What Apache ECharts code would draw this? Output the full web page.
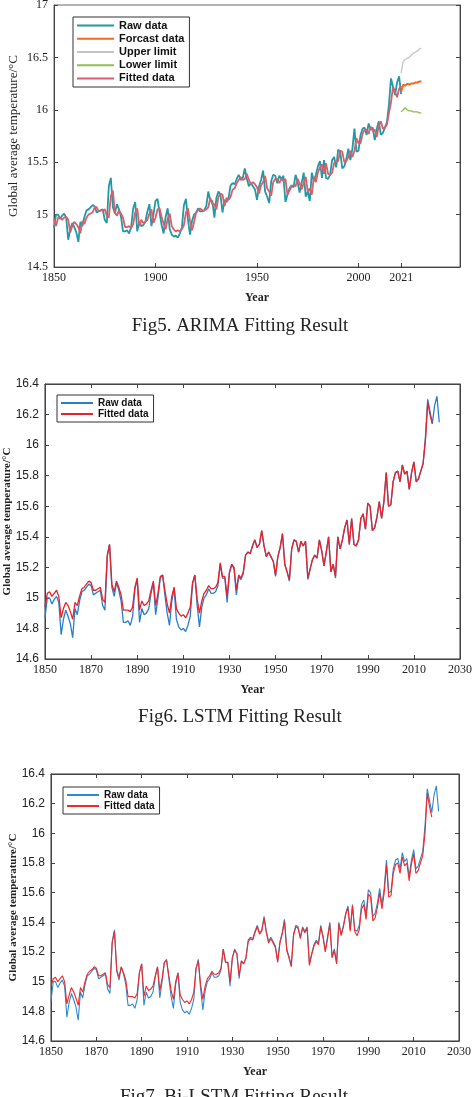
<!DOCTYPE html>
<html>
<head>
<meta charset="utf-8">
<script src="https://cdn.jsdelivr.net/npm/echarts@6/dist/echarts.min.js"></script>
<style>
html,body{margin:0;padding:0;background:#fff;}
#fig{width:474px;height:1097px;}
</style>
</head>
<body>
<div id="fig"></div>
<script>
// annual global average temperature, 1850-2021
var startYear = 1850;
var rawData = [
 14.87,15.00,15.00,14.96,14.99,15.01,14.97,14.76,14.86,14.92,
 14.88,14.83,14.74,14.93,14.89,14.98,15.04,15.05,15.07,15.09,
 15.08,15.02,15.03,15.04,15.05,14.95,14.92,15.27,15.35,15.07,
 15.01,15.10,15.05,14.98,14.84,14.84,14.85,14.82,14.88,15.06,
 15.12,14.84,14.93,14.89,14.90,14.93,15.03,15.10,14.89,15.00,
 15.13,15.15,15.02,14.90,14.82,14.98,15.06,14.86,14.81,14.79,
 14.80,14.78,14.82,14.88,15.09,15.15,14.95,14.81,14.94,15.00,
 15.02,15.06,15.03,15.03,15.04,15.08,15.22,15.13,15.13,14.97,
 15.16,15.22,15.19,15.02,15.14,15.12,15.16,15.28,15.30,15.29,
 15.34,15.38,15.33,15.35,15.44,15.34,15.27,15.30,15.27,15.24,
 15.14,15.27,15.33,15.42,15.22,15.17,15.11,15.32,15.38,15.37,
 15.30,15.37,15.34,15.37,15.12,15.19,15.25,15.28,15.26,15.38,
 15.31,15.21,15.30,15.40,15.17,15.22,15.13,15.40,15.32,15.38,
 15.46,15.51,15.35,15.52,15.35,15.34,15.38,15.52,15.55,15.45,
 15.62,15.60,15.44,15.46,15.53,15.63,15.52,15.63,15.82,15.60,
 15.61,15.76,15.82,15.83,15.76,15.87,15.81,15.83,15.71,15.82,
 15.89,15.76,15.78,15.83,15.88,16.05,16.30,16.22,16.14,16.26,
 16.32,16.15
];
// Fig5 ARIMA fitted values, 1850-2021
var arimaFitted = [
 14.96,14.89,14.97,14.97,14.95,14.97,14.98,14.95,14.83,14.89,
 14.93,14.91,14.88,14.82,14.94,14.91,14.97,15.00,15.01,15.02,
 15.07,15.07,15.03,15.04,15.04,15.05,14.99,14.97,15.18,15.23,
 15.02,14.99,15.04,15.01,14.97,14.88,14.88,14.89,14.87,14.91,
 15.02,15.06,14.89,14.95,14.92,14.93,14.95,15.01,15.05,14.92,
 14.97,15.05,15.06,14.98,14.91,14.86,14.96,15.01,14.89,14.86,
 14.84,14.85,14.84,14.86,14.90,15.02,15.06,14.94,14.85,14.93,
 15.02,15.04,15.06,15.04,15.04,15.05,15.07,15.16,15.10,15.10,
 15.05,15.17,15.20,15.19,15.08,15.16,15.14,15.17,15.24,15.25,
 15.30,15.33,15.36,15.33,15.34,15.39,15.33,15.29,15.31,15.29,
 15.26,15.20,15.28,15.31,15.37,15.25,15.22,15.18,15.31,15.34,
 15.34,15.30,15.34,15.32,15.34,15.19,15.23,15.27,15.28,15.27,
 15.34,15.30,15.24,15.30,15.36,15.22,15.25,15.19,15.36,15.31,
 15.40,15.45,15.48,15.39,15.49,15.39,15.38,15.40,15.49,15.51,
 15.51,15.61,15.60,15.50,15.51,15.55,15.61,15.55,15.61,15.73,
 15.68,15.68,15.77,15.81,15.81,15.77,15.84,15.80,15.81,15.74,
 15.85,15.89,15.82,15.83,15.86,15.97,16.07,16.22,16.17,16.12,
 16.20,16.23
];
// Fig5 forecast with limits
var forecastYears = [2021,2022,2023,2024,2025,2026,2027,2028,2029,2030,2031];
var forecastData = [16.17,16.24,16.23,16.25,16.24,16.25,16.25,16.26,16.26,16.27,16.27];
var upperLimit   = [16.35,16.46,16.48,16.49,16.50,16.52,16.54,16.55,16.56,16.58,16.59];
var lowerLimit   = [15.98,16.00,16.02,16.00,15.99,15.99,15.98,15.98,15.98,15.97,15.97];
// Fig6 LSTM fitted values, 1850-2018
var lstmFitted = [
 14.94,15.03,15.04,15.01,15.03,15.05,15.01,14.87,14.93,14.97,
 14.95,14.91,14.86,14.97,14.95,15.01,15.06,15.07,15.09,15.11,
 15.10,15.05,15.05,15.06,15.07,14.99,14.97,15.28,15.35,15.09,
 15.04,15.11,15.07,15.02,14.92,14.92,14.92,14.91,14.94,15.07,
 15.13,14.92,14.98,14.95,14.96,14.98,15.05,15.11,14.95,15.03,
 15.14,15.15,15.05,14.96,14.90,15.01,15.07,14.93,14.90,14.88,
 14.89,14.87,14.90,14.94,15.10,15.15,14.99,14.90,14.98,15.03,
 15.05,15.08,15.06,15.06,15.07,15.10,15.23,15.14,15.14,15.01,
 15.17,15.22,15.20,15.05,15.15,15.13,15.17,15.28,15.30,15.29,
 15.34,15.38,15.33,15.35,15.44,15.34,15.27,15.30,15.27,15.24,
 15.15,15.27,15.33,15.42,15.22,15.17,15.12,15.32,15.38,15.37,
 15.30,15.37,15.34,15.37,15.13,15.19,15.25,15.28,15.26,15.38,
 15.31,15.21,15.30,15.40,15.17,15.22,15.14,15.40,15.32,15.38,
 15.46,15.51,15.35,15.52,15.35,15.34,15.38,15.52,15.55,15.45,
 15.62,15.60,15.44,15.46,15.53,15.63,15.52,15.63,15.82,15.60,
 15.61,15.76,15.82,15.83,15.76,15.87,15.81,15.83,15.71,15.82,
 15.89,15.76,15.78,15.83,15.88,16.03,16.28,16.20,16.14
];
// Fig7 Bi-LSTM fitted values, 1850-2018
var bilstmFitted = [
 14.97,15.02,15.03,15.00,15.02,15.04,15.00,14.85,14.91,14.96,
 14.93,14.89,14.84,14.96,14.93,15.00,15.05,15.07,15.08,15.10,
 15.09,15.04,15.04,15.05,15.06,14.98,14.96,15.26,15.34,15.08,
 15.03,15.10,15.06,15.01,14.90,14.90,14.90,14.89,14.92,15.06,
 15.12,14.90,14.97,14.94,14.95,14.97,15.04,15.10,14.94,15.02,
 15.13,15.14,15.04,14.94,14.88,15.00,15.06,14.91,14.88,14.86,
 14.87,14.85,14.88,14.93,15.09,15.14,14.98,14.88,14.97,15.02,
 15.04,15.07,15.05,15.05,15.06,15.09,15.22,15.13,15.13,15.00,
 15.16,15.21,15.19,15.04,15.14,15.12,15.16,15.27,15.29,15.28,
 15.33,15.37,15.32,15.34,15.43,15.33,15.26,15.29,15.26,15.23,
 15.13,15.26,15.32,15.41,15.21,15.16,15.10,15.31,15.37,15.36,
 15.29,15.36,15.33,15.36,15.11,15.18,15.24,15.27,15.25,15.37,
 15.30,15.20,15.29,15.39,15.16,15.21,15.12,15.39,15.31,15.37,
 15.45,15.50,15.34,15.51,15.34,15.31,15.35,15.49,15.52,15.42,
 15.59,15.57,15.41,15.43,15.50,15.60,15.49,15.60,15.79,15.57,
 15.58,15.73,15.79,15.80,15.73,15.84,15.78,15.80,15.68,15.79,
 15.86,15.73,15.75,15.80,15.85,16.00,16.27,16.18,16.11
];
var arimaTicks = [1850,1900,1950,2000,2021];

var years = [];
for (var i = 0; i < rawData.length; i++) {
    years.push(startYear + i);
}

function pairs(xs, ys) {
    var out = [];
    for (var i = 0; i < ys.length; i++) {
        out.push([xs[i], ys[i]]);
    }
    return out;
}

var serif = 'Liberation Serif';
var sans = 'Liberation Sans';

function xAxisBottom(grid, min, max, interval, custom, labelFont) {
    var ax = {
        gridIndex: grid, type: 'value', min: min, max: max,
        axisLine: {show: true, onZero: false, lineStyle: {color: '#444', width: 1}},
        axisTick: {show: true, inside: true, length: 4, lineStyle: {color: '#444'}},
        axisLabel: {color: '#222', fontFamily: labelFont, fontSize: 12, margin: 5,
                    formatter: function (v) { return String(v); }},
        splitLine: {show: false},
        name: 'Year', nameLocation: 'middle', nameGap: 25, nameMoveOverlap: false,
        nameTextStyle: {fontFamily: serif, fontWeight: 'bold', fontSize: 12, color: '#222'}
    };
    if (custom) {
        ax.axisTick.customValues = custom;
        ax.axisLabel.customValues = custom;
    } else {
        ax.interval = interval;
    }
    return ax;
}
function xAxisTop(grid, min, max, interval) {
    return {
        gridIndex: grid, type: 'value', min: min, max: max, interval: interval, position: 'top',
        axisLine: {show: true, onZero: false, lineStyle: {color: '#444'}},
        axisTick: {show: true, inside: true, length: 4, lineStyle: {color: '#444'}},
        axisLabel: {show: false}, splitLine: {show: false}
    };
}
function yAxisLeft(grid, min, max, interval, labelFont, nameGap, nameBold, nameSize) {
    return {
        gridIndex: grid, type: 'value', min: min, max: max, interval: interval,
        axisLine: {show: true, onZero: false, lineStyle: {color: '#444'}},
        axisTick: {show: true, inside: true, length: 4, lineStyle: {color: '#444'}},
        axisLabel: {color: '#222', fontFamily: labelFont, fontSize: 12, margin: 6},
        splitLine: {show: false},
        name: 'Global average temperature/°C', nameLocation: 'middle', nameGap: nameGap,
        nameMoveOverlap: false,
        nameTextStyle: {fontFamily: serif, fontWeight: nameBold ? 'bold' : 'normal', fontSize: nameSize, color: '#222'}
    };
}
function yAxisRight(grid, min, max, interval) {
    return {
        gridIndex: grid, type: 'value', min: min, max: max, interval: interval, position: 'right',
        axisLine: {show: true, onZero: false, lineStyle: {color: '#444'}},
        axisTick: {show: true, inside: true, length: 4, lineStyle: {color: '#444'}},
        axisLabel: {show: false}, splitLine: {show: false}
    };
}
function lineSeries(name, xi, yi, data, color, width) {
    return {
        name: name, type: 'line', xAxisIndex: xi, yAxisIndex: yi, data: data,
        symbol: 'none', showSymbol: false, clip: true, silent: true,
        lineStyle: {color: color, width: width}, itemStyle: {color: color}
    };
}
function legendBox(left, top, names, lineW, rowH, gap, font) {
    return {
        orient: 'vertical', left: left, top: top, data: names,
        itemWidth: lineW, itemHeight: rowH, itemGap: gap, itemStyle: {opacity: 0},
        padding: [3, 5, 3, 3], borderColor: '#333', borderWidth: 1, backgroundColor: '#fff',
        textStyle: {fontFamily: sans, fontWeight: 'bold', fontSize: font, color: '#111'},
        formatter: function (n) { return n.split('|')[0]; },
        selectedMode: false
    };
}
function gridBox(left, top, right, height, border) {
    return {left: left, top: top, right: right, height: height, containLabel: false,
            outerBoundsMode: 'none', show: true, borderColor: border, borderWidth: 1,
            backgroundColor: 'transparent'};
}

var myChart = echarts.init(document.getElementById('fig'));
var option = {
    animation: false,
    backgroundColor: '#fff',
    grid: [
        gridBox(54, 5, 14, 262, '#666'),
        gridBox(45, 384, 14, 275, '#333'),
        gridBox(51, 774, 15, 267, '#333')
    ],
    xAxis: [
        xAxisBottom(0, 1850, 2050, null, arimaTicks, serif),
        xAxisBottom(1, 1850, 2030, 20, null, serif),
        xAxisTop(1, 1850, 2030, 20),
        xAxisBottom(2, 1850, 2030, 20, null, serif),
        xAxisTop(2, 1850, 2030, 20)
    ],
    yAxis: [
        yAxisLeft(0, 14.5, 17, 0.5, serif, 34, false, 13),
        yAxisRight(0, 14.5, 17, 0.5),
        yAxisLeft(1, 14.6, 16.4, 0.2, sans, 32, true, 11),
        yAxisRight(1, 14.6, 16.4, 0.2),
        yAxisLeft(2, 14.6, 16.4, 0.2, sans, 32, true, 11),
        yAxisRight(2, 14.6, 16.4, 0.2)
    ],
    legend: [
        legendBox(73, 17, ['Raw data', 'Forcast data', 'Upper limit', 'Lower limit', 'Fitted data'], 37, 14, 2, 11),
        legendBox(57, 395, ['Raw data|2', 'Fitted data|2'], 32, 12, 1, 10),
        legendBox(63, 787, ['Raw data|3', 'Fitted data|3'], 32, 12, 1, 10)
    ],
    series: [
        lineSeries('Raw data', 0, 0, pairs(years, rawData), '#1f9aa6', 1.8),
        lineSeries('Forcast data', 0, 0, pairs(forecastYears, forecastData), '#f26a21', 2),
        lineSeries('Upper limit', 0, 0, pairs(forecastYears, upperLimit), '#c4c4c4', 1.3),
        lineSeries('Lower limit', 0, 0, pairs(forecastYears, lowerLimit), '#8fbf4f', 1.3),
        lineSeries('Fitted data', 0, 0, pairs(years, arimaFitted), '#d95f6a', 1.8),
        lineSeries('Raw data|2', 1, 2, pairs(years, rawData), '#2a7ec8', 1.3),
        lineSeries('Fitted data|2', 1, 2, pairs(years, lstmFitted), '#e8222a', 1.3),
        lineSeries('Raw data|3', 3, 4, pairs(years, rawData), '#3387cc', 1.1),
        lineSeries('Fitted data|3', 3, 4, pairs(years, bilstmFitted), '#ee2a2a', 1.1)
    ],
    graphic: [
        {type: 'text', x: 240, y: 326, silent: true,
         style: {text: 'Fig5. ARIMA Fitting Result', font: '19px "Liberation Serif"', fill: '#222', align: 'center', verticalAlign: 'middle'}},
        {type: 'text', x: 240, y: 717, silent: true,
         style: {text: 'Fig6. LSTM Fitting Result', font: '19px "Liberation Serif"', fill: '#222', align: 'center', verticalAlign: 'middle'}},
        {type: 'text', x: 234, y: 1097, silent: true,
         style: {text: 'Fig7. Bi-LSTM Fitting Result', font: '19px "Liberation Serif"', fill: '#222', align: 'center', verticalAlign: 'middle'}}
    ]
};
myChart.setOption(option);
</script>
</body>
</html>
